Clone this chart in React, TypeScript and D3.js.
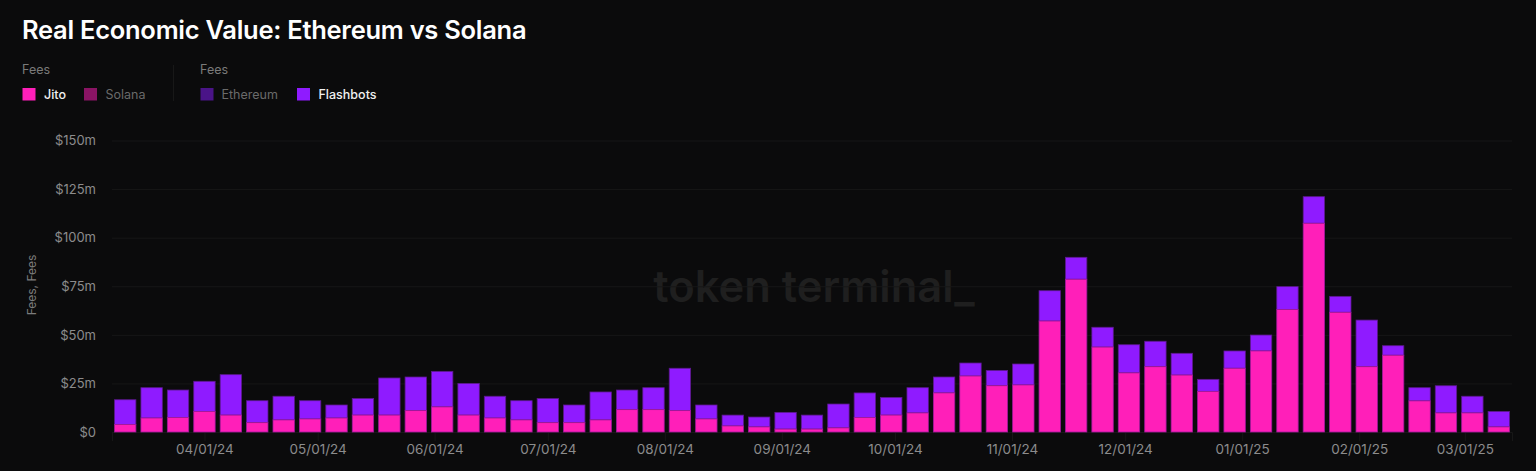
import { useEffect, useRef } from 'react';
import * as d3 from 'd3';

const WIDTH = 1536;
const HEIGHT = 471;

// one bar per week, first week starts 2024-03-11
const FIRST_WEEK = new Date(2024, 2, 11);
const jito = [
  3.9, 7.2, 7.5, 10.6, 8.7, 4.8, 6.2, 6.7, 7.2, 8.7, 8.7, 11, 12.9, 8.7, 7.2, 6.2, 4.8, 4.8,
  6.2, 11.5, 11.5, 11, 6.7, 3.1, 2.6, 1.5, 1.5, 2.1, 7.5, 8.7, 9.8, 20.1, 28.8, 23.8, 24.2, 57.1,
  78.6, 43.7, 30.4, 33.6, 29.3, 20.9, 32.8, 41.7, 63, 107.4, 61.6, 33.6, 39.5, 16, 9.8, 9.8, 2.6,
];
const flashbots = [
  12.7, 15.6, 14.1, 15.5, 20.8, 11.3, 12.2, 9.4, 6.7, 8.5, 19.1, 17.3, 18.3, 16.3, 11.2, 9.9, 12.4, 9.1,
  14.4, 10.1, 11.3, 21.8, 7.2, 5.6, 5.1, 8.6, 7.2, 12.3, 12.6, 9.1, 13, 8.2, 6.7, 7.9, 10.8, 15.6,
  11.3, 10.2, 14.5, 13.1, 11.2, 6.2, 8.9, 8.2, 11.8, 13.7, 8.2, 24, 4.9, 6.8, 14, 8.6, 8,
];
const yTicks = [0, 25, 50, 75, 100, 125, 150];
const xTicks = [
  new Date(2024, 3, 1), new Date(2024, 4, 1), new Date(2024, 5, 1), new Date(2024, 6, 1),
  new Date(2024, 7, 1), new Date(2024, 8, 1), new Date(2024, 9, 1), new Date(2024, 10, 1),
  new Date(2024, 11, 1), new Date(2025, 0, 1), new Date(2025, 1, 1), new Date(2025, 2, 1),
];
const legendGroups = [
  { title: 'Fees', x: 22, items: [
    { label: 'Jito', color: '#ff1fb9', active: true, x: 22, textX: 44 },
    { label: 'Solana', color: '#8a1464', active: false, x: 83.5, textX: 105.5 },
  ] },
  { title: 'Fees', x: 200, items: [
    { label: 'Ethereum', color: '#4a1488', active: false, x: 200, textX: 221.5 },
    { label: 'Flashbots', color: '#8f1bff', active: true, x: 296.5, textX: 318.5 },
  ] },
];

const FONT = 'Inter, "Noto Sans", sans-serif';
const M = { top: 140.5, right: 24, bottom: 39, left: 112 };

export default function App() {
  const svgRef = useRef<SVGSVGElement>(null);

  useEffect(() => {
    if (!svgRef.current) return;
    const svg = d3.select(svgRef.current);
    svg.selectAll('*').remove();

    const weeks = jito.map((_, i) => d3.timeDay.offset(FIRST_WEEK, i * 7));
    const x = d3.scaleBand<number>()
      .domain(weeks.map(d => +d))
      .range([M.left, WIDTH - M.right])
      .paddingInner(0.19)
      .paddingOuter(0.095);
    // same span as the bands, for the month ticks
    const xTime = d3.scaleTime()
      .domain([d3.timeHour.offset(weeks[0], -84), d3.timeHour.offset(weeks[weeks.length - 1], 84)])
      .range([M.left, WIDTH - M.right]);
    const y = d3.scaleLinear().domain([0, 150]).range([HEIGHT - M.bottom, M.top]);

    svg.append('rect').attr('width', WIDTH).attr('height', HEIGHT).attr('fill', '#0b0b0c');

    // title + legend
    svg.append('text')
      .attr('x', 22).attr('y', 39)
      .attr('fill', '#ffffff').attr('font-size', 25.5).attr('font-weight', 600)
      .attr('letter-spacing', -0.27).attr('font-family', FONT)
      .text('Real Economic Value: Ethereum vs Solana');

    legendGroups.forEach(group => {
      svg.append('text')
        .attr('x', group.x).attr('y', 74)
        .attr('fill', '#7a7a7a').attr('font-size', 12.5).attr('font-family', FONT)
        .text(group.title);
      group.items.forEach(item => {
        svg.append('rect')
          .attr('x', item.x + 0.5).attr('y', 88).attr('width', 13).attr('height', 12.5)
          .attr('fill', item.color);
        svg.append('text')
          .attr('x', item.textX).attr('y', 98.5)
          .attr('fill', item.active ? '#f0f0f0' : '#6a6a6a')
          .attr('font-size', 12.5).attr('font-weight', item.active ? 500 : 400)
          .attr('font-family', FONT)
          .text(item.label);
      });
    });
    svg.append('line')
      .attr('x1', 173.5).attr('x2', 173.5).attr('y1', 65).attr('y2', 101)
      .attr('stroke', '#181818');

    // watermark sits behind the grid
    svg.append('text')
      .attr('x', 814).attr('y', 302)
      .attr('text-anchor', 'middle')
      .attr('fill', '#1f1f1f').attr('font-size', 43.5).attr('font-weight', 600)
      .attr('font-family', FONT)
      .text('token terminal_');

    // grid + y labels
    const yAxis = svg.append('g')
      .attr('transform', `translate(${M.left},0)`)
      .call(d3.axisLeft(y).tickValues(yTicks).tickSize(-(WIDTH - M.left - M.right)).tickPadding(16)
        .tickFormat(d => (+d === 0 ? '$0' : `$${d}m`)));
    yAxis.select('.domain').remove();
    yAxis.selectAll('.tick line').attr('stroke', '#171717');
    yAxis.selectAll('.tick text')
      .attr('fill', '#8c8c8c').attr('font-size', 13).attr('font-family', FONT);

    svg.append('text')
      .attr('transform', `translate(36,285) rotate(-90)`)
      .attr('text-anchor', 'middle')
      .attr('fill', '#7c7c7c').attr('font-size', 12).attr('font-family', FONT)
      .text('Fees, Fees');

    // x ticks
    const xAxis = svg.append('g')
      .attr('transform', `translate(0,${HEIGHT - M.bottom})`)
      .call(d3.axisBottom(xTime).tickValues(xTicks).tickSize(9).tickPadding(3)
        .tickFormat(d => d3.timeFormat('%m/%d/%y')(d as Date)));
    xAxis.select('.domain').attr('stroke', '#171717');
    xAxis.selectAll('.tick line').attr('stroke', '#171717');
    xAxis.selectAll('.tick text')
      .attr('fill', '#8c8c8c').attr('font-size', 13.5).attr('font-family', FONT);

    // stacked bars
    const rows = weeks.map((d, i) => ({ week: +d, jito: jito[i], flashbots: flashbots[i] }));
    const stack = d3.stack<(typeof rows)[number], 'jito' | 'flashbots'>().keys(['jito', 'flashbots']);
    const colors = { jito: '#ff1fb9', flashbots: '#8f1bff' };
    const outlines = { jito: '#a0189c', flashbots: '#5c1a8c' };
    stack(rows).reverse().forEach(layer => {
      const key = layer.key as 'jito' | 'flashbots';
      svg.append('g').selectAll('rect').data(layer).join('rect')
        .attr('x', d => x(d.data.week) as number)
        .attr('width', x.bandwidth())
        .attr('y', d => y(d[1]))
        .attr('height', d => y(d[0]) - y(d[1]))
        .attr('fill', colors[key])
        .attr('stroke', outlines[key]).attr('stroke-width', 0.8);
    });
  }, []);

  return (
    <svg
      ref={svgRef}
      width={WIDTH}
      height={HEIGHT}
      style={{ position: 'absolute', left: 0, top: 0, display: 'block' }}
    />
  );
}
